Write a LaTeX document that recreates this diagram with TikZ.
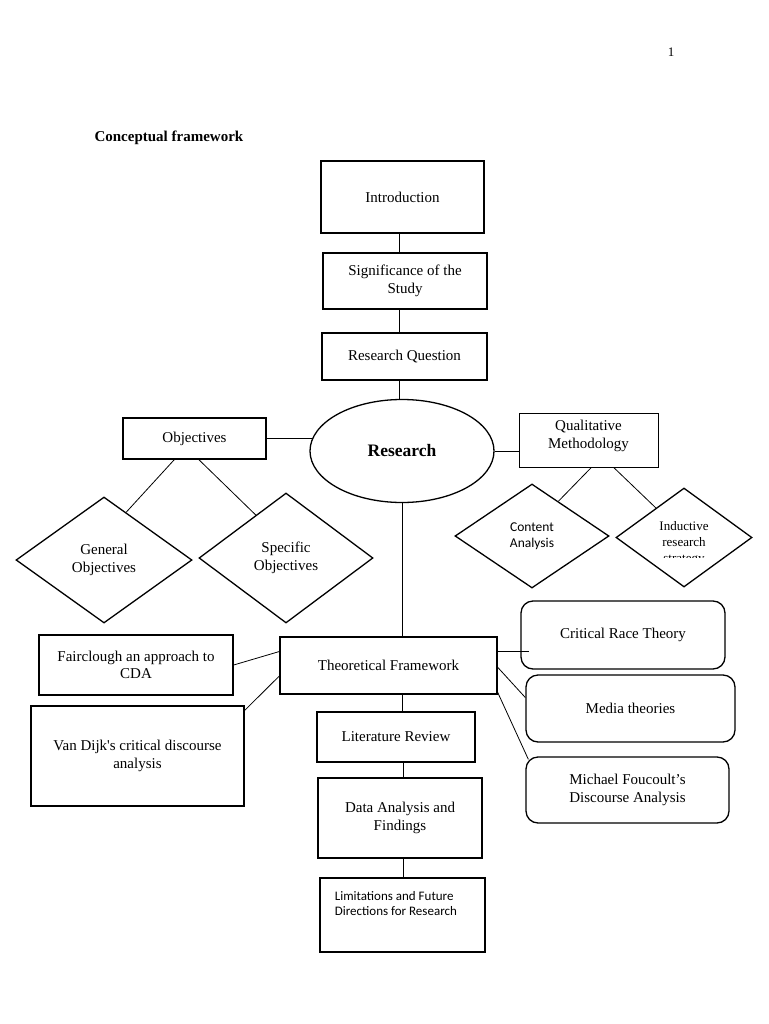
\documentclass[tikz,border=0pt]{standalone}
\usepackage{fontspec}
\setmainfont{Liberation Serif}
\newfontfamily\calibri{Carlito}
\usetikzlibrary{shapes.geometric}
\usetikzlibrary{calc}
\tikzset{link/.style={line width=0.8pt}}
\tikzset{plain box/.style={draw,line width=1.3pt,align=center,inner sep=2pt,font=\fontsize{15}{17.5}\selectfont},
		 round box/.style={plain box,rounded corners=12pt}}
\tikzset{rhombus box/.style={draw,diamond,line width=1.3pt,inner sep=0pt,align=center,font=\fontsize{15}{17.5}\selectfont}}

\begin{document}
\begin{tikzpicture}[x=1pt,y=-1pt]
	\useasboundingbox (0,0) rectangle (768,1024);
	\node[font=\fontsize{13}{15}\selectfont] (page) at (671,52) {1};
	\node[anchor=west,font=\fontsize{15}{17}\selectfont\bfseries] (title) at (91,138) {Conceptual framework};
	\coordinate (spine top) at (399,0);
	\coordinate (spine low) at (402,0);
	% main column
	\node[plain box,minimum width=163pt,minimum height=72pt] (intro) at (402.5,197) {Introduction};
	\node[plain box,minimum width=164pt,minimum height=56pt] (sig) at (405,281) {Significance of the\\Study};
	\node[plain box,minimum width=165pt,minimum height=47pt] (rq) at (404.5,356.5) {Research Question};
	\node[draw,ellipse,line width=1.3pt,minimum width=184pt,minimum height=103pt,
		font=\fontsize{17.5}{20}\selectfont\bfseries] (res) at (402,451) {Research};
	\node[plain box,minimum width=217pt,minimum height=57pt] (tf) at (388.5,665.5) {Theoretical Framework};
	\node[plain box,minimum width=158pt,minimum height=50pt] (lr) at (396,737) {Literature Review};
	\node[plain box,minimum width=164pt,minimum height=80pt] (da) at (400,818) {Data Analysis and\\Findings};
	\node[plain box,minimum width=165pt,minimum height=74pt] (lim) at (402.5,915) {};
	\node[anchor=north west,align=left,font=\calibri\fontsize{13}{15}\selectfont] (lim text)
		at ($(lim.north west)+(12,11)$) {Limitations and Future\\Directions for Research};
	% left and right branches
	\node[plain box,minimum width=143pt,minimum height=41pt] (obj) at (194.5,438.5) {Objectives};
	\node[rhombus box,minimum width=176pt,minimum height=126pt] (gen) at (104,560) {General\\Objectives};
	\node[rhombus box,minimum width=174pt,minimum height=130pt] (spec) at (286,558) {Specific\\Objectives};
	\node[plain box,line width=1pt,minimum width=139pt,minimum height=54pt] (qm) at (588.5,440) {};
	\node[align=center,font=\fontsize{15}{17.5}\selectfont] (qm text) at (588.5,436) {Qualitative\\Methodology};
	\node[rhombus box,minimum width=154pt,minimum height=104pt,
		font=\calibri\fontsize{13.5}{15.5}\selectfont] (ca) at (532,536) {Content\\Analysis};
	\node[rhombus box,minimum width=136pt,minimum height=99pt] (ind) at (684,537.5) {};
	\begin{scope}
		\clip (610,480) rectangle (760,557);
		\node[align=center,font=\fontsize{13}{16}\selectfont] (ind text) at (684,543) {Inductive\\research\\strategy};
	\end{scope}
	\node[plain box,minimum width=194pt,minimum height=60pt] (fair) at (136,665) {Fairclough an approach to\\CDA};
	\node[plain box,minimum width=213pt,minimum height=100pt] (vd) at (137.5,756) {Van Dijk\textquotesingle s critical discourse\\analysis};
	\node[round box,minimum width=204pt,minimum height=68pt] (crt) at (623,635) {Critical Race Theory};
	\node[round box,minimum width=209pt,minimum height=67pt] (media) at (630.5,708.5) {Media theories};
	\node[round box,minimum width=203pt,minimum height=66pt] (fou) at (627.5,790) {Michael Foucoult’s\\Discourse Analysis};
	\coordinate (crt tick) at ([xshift=9pt]crt.west);
	% connectors
	\draw[link] (intro.south -| spine top) -- (sig.north -| spine top);
	\draw[link] (sig.south -| spine top) -- (rq.north -| spine top);
	\draw[link] (rq.south -| spine top) -- (res.north -| spine top);
	\draw[link] (res.south) -- (res.south |- tf.north);
	\draw[link] (tf.south -| spine low) -- (lr.north -| spine low);
	\draw[link] ([xshift=1pt]lr.south -| spine low) -- ([xshift=1pt]da.north -| spine low);
	\draw[link] ([xshift=1pt]da.south -| spine low) -- ([xshift=1pt]lim.north -| spine low);
	\draw[link] (obj.east) -- ($(obj.east -| res.west)+(4,0)$);
	\draw[link] (res.east) -- (res.east -| qm.west);
	\draw[link] ($(obj.south west)!0.36!(obj.south east)$) -- ($(gen.north)!0.25!(gen.east)$);
	\draw[link] ($(obj.south west)!0.53!(obj.south east)$) -- ($(spec.north)!0.345!(spec.west)$);
	\draw[link] ($(qm.south west)!0.52!(qm.south east)$) -- ($(ca.north)!0.34!(ca.east)$);
	\draw[link] ($(qm.south west)!0.68!(qm.south east)$) -- ($(ind.north)!0.41!(ind.west)$);
	\draw[link] (fair.east) -- ($(tf.north west)!0.26!(tf.south west)$);
	\draw[link] ($(vd.north east)!0.05!(vd.south east)$) -- ($(tf.north west)!0.68!(tf.south west)$);
	\draw[link] ($(tf.north east)!0.26!(tf.south east)$) coordinate (tf crt) -- (tf crt -| crt tick);
	\draw[link] ($(tf.north east)!0.53!(tf.south east)$) -- ($(media.north west)!0.34!(media.south west)$);
	\draw[link] ($(tf.north east)!0.96!(tf.south east)$) -- ([shift={(3,3)}]fou.north west); % esquina
\end{tikzpicture}
\end{document}
